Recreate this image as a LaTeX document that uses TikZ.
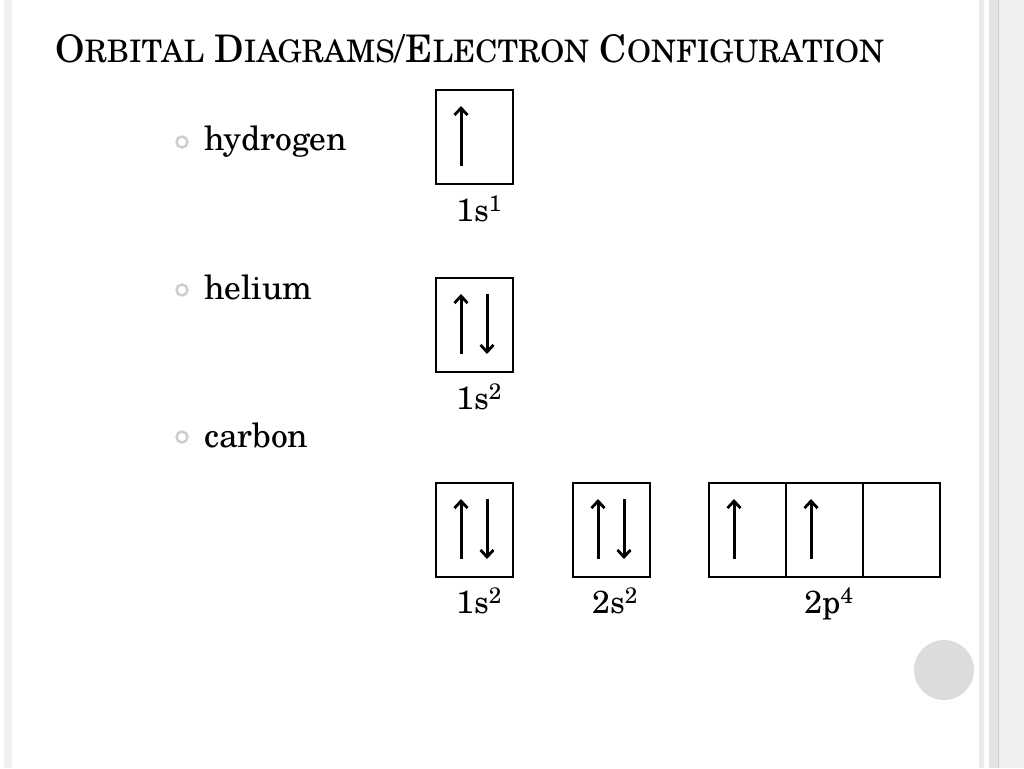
\documentclass[tikz,border=0pt]{standalone}
\usepackage{fontspec}
\setmainfont{TeX Gyre Schola}
\usetikzlibrary{arrows.meta}
\definecolor{bulgrey}{HTML}{CDCDCD}
\definecolor{edgeA}{HTML}{EFEFEF}
\definecolor{edgeB}{HTML}{E4E4E4}
\definecolor{edgeC}{HTML}{EBEBEB}
\definecolor{dotgrey}{HTML}{DCDCDC}
\newcommand\tsc[2]{#1{\fontsize{31}{36}\selectfont #2}}
\begin{document}
\begin{tikzpicture}[x=1pt,y=-1pt,
  orb/.style={draw=black, line width=2pt, minimum width=77pt, minimum height=94pt, inner sep=0pt, anchor=north west},
  spin/.style={line width=3pt, -{Straight Barb[length=7pt,width=13pt,line width=2.8pt]}},
  lbl/.style={font=\fontsize{32}{38}\selectfont, anchor=base, inner sep=0pt},
  itemtxt/.style={font=\fontsize{33.5}{40}\selectfont, anchor=base west, inner sep=0pt},
  bul/.style={circle, draw=bulgrey, line width=2.4pt, minimum size=11pt, inner sep=0pt}]
% background and page edges
\useasboundingbox (0,0) rectangle (1024,768);
\fill[white] (0,0) rectangle (1024,768);
\fill[edgeA] (4,0) rectangle (12,768);
\fill[edgeC] (979,0) rectangle (984,768);
\fill[edgeB] (989,0) rectangle (999,768);
\draw[line width=0.8pt, black!20] (998,0) -- (998,768);
\fill[edgeA] (999,0) rectangle (1024,768);
\fill[dotgrey] (944,670) circle (30);
% title
\node[anchor=base west, inner sep=0pt] (title) at (55,63)
  {\fontsize{38}{44}\selectfont\resizebox{829pt}{\height}{\tsc{O}{RBITAL} \tsc{D}{IAGRAMS}/\tsc{E}{LECTRON} \tsc{C}{ONFIGURATION}}};
% bullets
\node[bul] (b1) at (182,142) {};
\node[itemtxt] (t1) at (204,150) {hydrogen};
\node[bul] (b2) at (182,290) {};
\node[itemtxt] (t2) at (204,299) {helium};
\node[bul] (b3) at (182,437) {};
\node[itemtxt] (t3) at (204,447) {carbon};
% hydrogen
\node[orb] (h1s) at (435,89) {};
\coordinate (hua) at (461,166); \coordinate (hub) at (461,106);
\draw[spin] (hua) -- (hub);
\node[lbl] (hl) at (479,221) {1s\textsuperscript{1}};
% helium
\node[orb] (he1s) at (435,277) {};
\coordinate (heua) at (461,354); \coordinate (heub) at (461,294);
\coordinate (heda) at (487,294); \coordinate (hedb) at (487,354);
\draw[spin] (heua) -- (heub);
\draw[spin] (heda) -- (hedb);
\node[lbl] (hel) at (479,409) {1s\textsuperscript{2}};
% carbon
\node[orb] (c1s) at (435,482) {};
\node[orb] (c2s) at (572,482) {};
\node[orb] (c2pa) at (708,482) {};
\node[orb] (c2pb) at (785,482) {};
\node[orb] (c2pc) at (862,482) {};
\coordinate (c1ua) at (461,559); \coordinate (c1ub) at (461,499);
\coordinate (c1da) at (487,499); \coordinate (c1db) at (487,559);
\coordinate (c2ua) at (598,559); \coordinate (c2ub) at (598,499);
\coordinate (c2da) at (624,499); \coordinate (c2db) at (624,559);
\coordinate (c3ua) at (734,559); \coordinate (c3ub) at (734,499);
\coordinate (c4ua) at (811,559); \coordinate (c4ub) at (811,499);
\draw[spin] (c1ua) -- (c1ub);
\draw[spin] (c1da) -- (c1db);
\draw[spin] (c2ua) -- (c2ub);
\draw[spin] (c2da) -- (c2db);
\draw[spin] (c3ua) -- (c3ub);
\draw[spin] (c4ua) -- (c4ub);
\node[lbl] (cl1) at (479,613) {1s\textsuperscript{2}};
\node[lbl] (cl2) at (615,613) {2s\textsuperscript{2}};
\node[lbl] (cl3) at (829,613) {2p\textsuperscript{4}};
\end{tikzpicture}
\end{document}
